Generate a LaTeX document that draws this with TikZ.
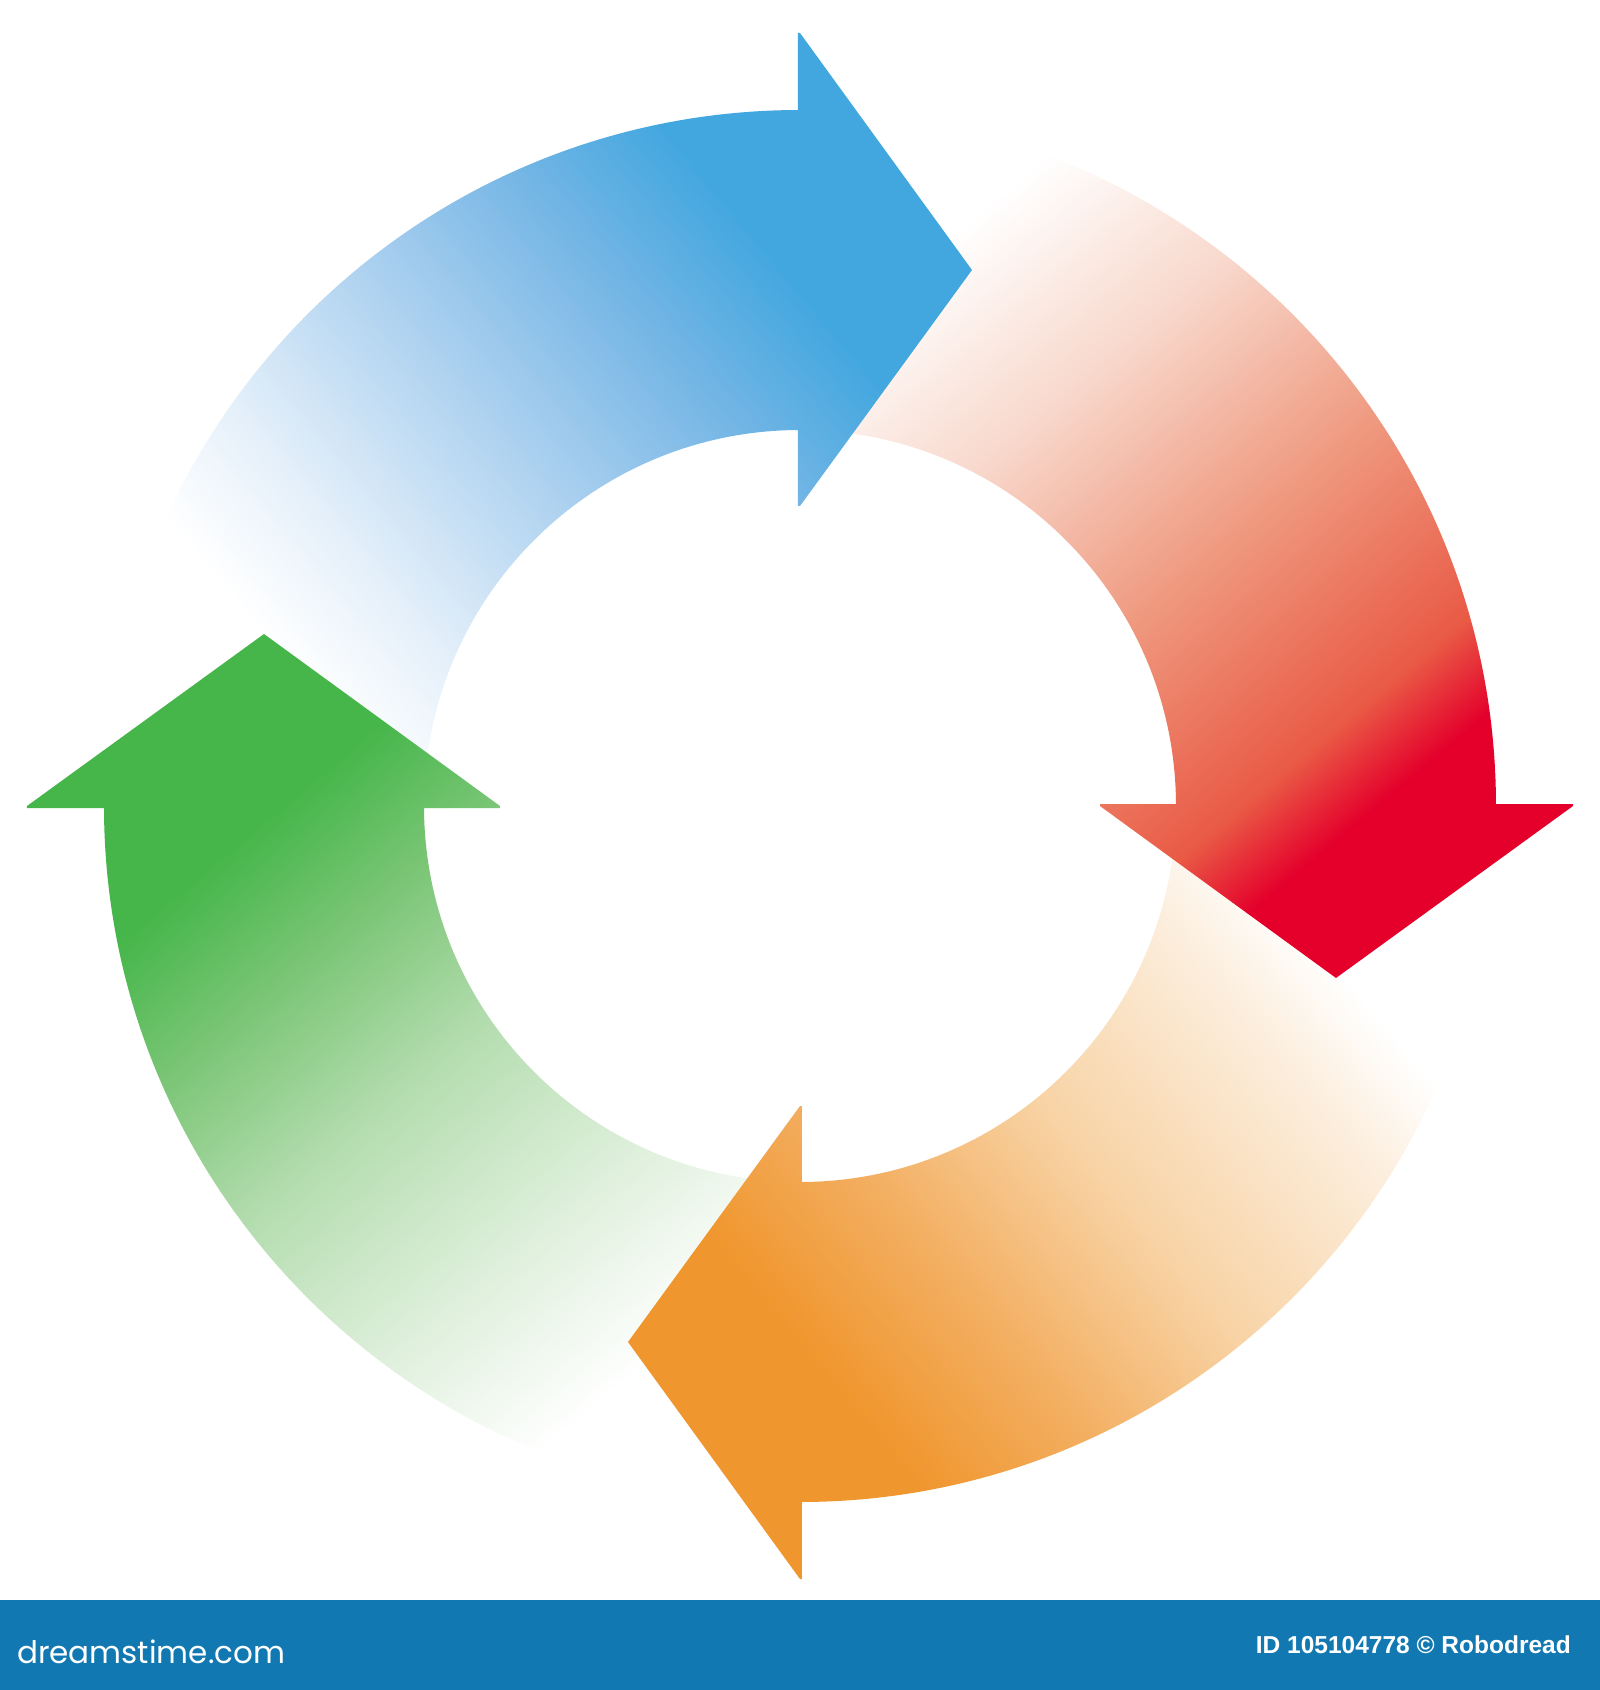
\documentclass[tikz,border=0pt]{standalone}
\usepackage{fontspec}
\newfontfamily\logofont{Poppins}
\newfontfamily\idfont{Liberation Sans}
\definecolor{bannerblue}{RGB}{17,120,177}
% blue ramp
\definecolor{bA}{RGB}{229,240,250}
\definecolor{bB}{RGB}{165,205,238}
\definecolor{bC}{RGB}{117,182,229}
\definecolor{bD}{RGB}{66,167,223}
% red ramp
\definecolor{rA}{RGB}{248,216,204}
\definecolor{rB}{RGB}{239,154,128}
\definecolor{rC}{RGB}{233,90,69}
\definecolor{rD}{RGB}{228,0,43}
% orange ramp
\definecolor{oA}{RGB}{252,238,221}
\definecolor{oB}{RGB}{248,211,165}
\definecolor{oC}{RGB}{243,174,96}
\definecolor{oD}{RGB}{240,150,46}
% green ramp
\definecolor{gA}{RGB}{221,239,218}
\definecolor{gB}{RGB}{181,221,176}
\definecolor{gC}{RGB}{127,199,122}
\definecolor{gD}{RGB}{70,182,74}
\pgfdeclarehorizontalshading{bluefade}{100bp}{color(0bp)=(white); color(40.6bp)=(white); color(44.4bp)=(bA); color(51.2bp)=(bB); color(55.9bp)=(bC); color(60.4bp)=(bD); color(100bp)=(bD)}
\pgfdeclarehorizontalshading{redfade}{100bp}{color(0bp)=(white); color(39.4bp)=(white); color(45.5bp)=(rA); color(52.2bp)=(rB); color(58.9bp)=(rC); color(61.6bp)=(rD); color(100bp)=(rD)}
\pgfdeclarehorizontalshading{orangefade}{100bp}{color(0bp)=(white); color(40.4bp)=(white); color(43.5bp)=(oA); color(50.2bp)=(oB); color(55.9bp)=(oC); color(60.8bp)=(oD); color(100bp)=(oD)}
\pgfdeclarehorizontalshading{greenfade}{100bp}{color(0bp)=(white); color(39.7bp)=(white); color(45.3bp)=(gA); color(51.0bp)=(gB); color(55.8bp)=(gC); color(60.4bp)=(gD); color(100bp)=(gD)}
% #1 rotation of the piece, #2 gradient angle, #3 shading, #4 0=shaft 1=head
\newcommand\arrowpiece[4]{%
  \begin{scope}
    \ifnum#4=0
      \clip[rotate=#1] (180:696) arc[start angle=180,end angle=90,radius=696]
        -- (90:376) arc[start angle=90,end angle=180,radius=376] -- cycle;
    \else
      \clip[rotate=#1] (-2,300) -- (-2,773) -- (0,773) -- (172,536) -- (0,300) -- cycle;
    \fi
    \begin{scope}[transform canvas={rotate=#2}]
      \shade[shading=#3] (-800,-800) rectangle (800,800);
    \end{scope}
  \end{scope}}
\tikzset{
  bannertext/.style={inner sep=0pt, text=white},
}
\begin{document}
\begin{tikzpicture}[x=1pt,y=1pt]
\useasboundingbox (-800,-884) rectangle (800,806);
\fill[white] (-800,-884) rectangle (800,806);
% shafts
\arrowpiece{0}{40}{bluefade}{0}
\arrowpiece{-90}{-50}{redfade}{0}
\arrowpiece{-180}{-140}{orangefade}{0}
\arrowpiece{-270}{130}{greenfade}{0}
% heads
\arrowpiece{0}{40}{bluefade}{1}
\arrowpiece{-90}{-50}{redfade}{1}
\arrowpiece{-180}{-140}{orangefade}{1}
\arrowpiece{-270}{130}{greenfade}{1}
% banner
\fill[bannerblue] (-800,-884) rectangle (800,-794);
\node[bannertext, anchor=base west, font=\logofont\fontsize{31}{31}\selectfont] (logo) at (-783,-857) {dreamstime.com};
\node[bannertext, anchor=base east, font=\idfont\bfseries\fontsize{24.5}{24.5}\selectfont] (credit) at (771,-847) {ID 105104778 © Robodread};
\end{tikzpicture}
\end{document}
